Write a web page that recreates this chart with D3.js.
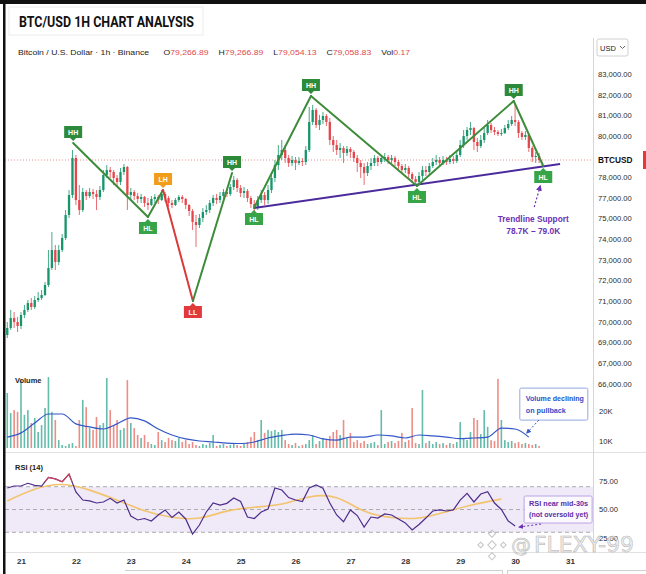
<!DOCTYPE html>
<html>
<head>
<meta charset="utf-8">
<script src="https://cdn.jsdelivr.net/npm/d3@7"></script>
<style>
  html, body { margin: 0; padding: 0; background: #fff; }
  svg { display: block; font-family: "Liberation Sans", Arial, sans-serif; }
</style>
</head>
<body>
<svg id="chart" width="646" height="574"></svg>
<script>
/*
 * BTC/USD 1H chart – candles, volume, RSI(14) with swing annotations.
 * Candle i sits at day START_DAY + i / PER_DAY, open = previous close.
 */

const START_DAY = 20.75;
const PER_DAY   = 16;
const FIRST_OPEN = 70.31;   // thousands USD

// prices in thousands USD
const closes = [
  70.66,71.16,70.96,70.76,71.31,71.56,71.91,71.71,72.06,72.16,
  72.31,72.81,73.66,74.56,73.96,74.56,75.16,76.31,77.31,79.16,
  77.06,76.56,77.46,77.26,77.46,77.36,77.21,77.56,78.31,78.56,
  78.46,78.16,77.96,78.46,78.71,77.31,77.46,77.26,77.11,77.21,
  76.91,76.81,77.11,77.21,77.06,77.36,77.16,76.91,76.81,77.06,
  77.21,77.11,76.81,76.51,75.96,75.81,76.16,76.46,76.56,76.91,
  77.16,77.06,77.26,77.46,77.36,77.71,78.06,77.66,77.41,77.51,
  77.16,76.86,76.71,77.06,77.31,77.06,77.56,78.16,78.81,79.31,
  79.56,79.16,78.91,79.06,78.91,79.01,78.96,79.56,80.96,81.56,
  80.81,81.06,81.26,80.96,80.06,79.81,79.56,79.66,79.41,79.61,
  79.46,79.16,78.91,78.71,78.41,78.76,78.91,79.16,78.96,79.16,
  79.21,79.06,79.16,78.96,78.76,78.56,78.66,78.36,78.11,77.96,
  78.26,78.56,78.46,78.76,78.96,79.06,78.91,79.06,78.96,79.11,
  79.01,79.31,79.81,80.26,80.56,80.66,79.96,79.76,80.06,80.41,
  80.81,80.56,80.46,80.36,80.41,80.66,80.86,81.06,80.96,80.41,
  80.21,80.31,79.66,79.21,79.26,79.06
];
const highs = [
  70.96,71.56,71.46,71.21,71.46,71.81,72.06,72.16,72.26,72.46,
  72.56,72.96,74.56,75.46,74.81,74.81,75.36,76.56,77.56,79.56,
  79.31,77.81,77.66,77.56,77.66,77.61,77.56,77.76,78.56,78.81,
  78.71,78.56,78.31,78.66,78.86,78.76,77.66,77.56,77.41,77.36,
  77.26,77.16,77.26,77.36,77.31,77.56,77.46,77.26,77.06,77.16,
  77.31,77.31,77.16,76.86,76.61,76.31,76.36,76.66,76.81,77.06,
  77.31,77.36,77.46,77.61,77.61,77.86,78.26,78.16,77.81,77.71,
  77.61,77.26,77.06,77.26,77.56,77.46,77.81,78.46,79.06,79.81,
  80.06,79.81,79.31,79.26,79.21,79.21,79.16,79.76,81.71,81.81,
  81.66,81.31,81.46,81.36,81.16,80.26,80.06,79.91,79.76,79.76,
  79.71,79.56,79.31,79.06,78.91,78.96,79.16,79.31,79.26,79.31,
  79.41,79.31,79.31,79.26,79.06,78.86,78.86,78.76,78.46,78.26,
  78.46,78.76,78.76,78.91,79.16,79.31,79.21,79.26,79.21,79.31,
  79.26,79.51,80.06,80.56,80.71,80.96,80.71,80.16,80.31,80.66,
  81.06,80.91,80.71,80.56,80.61,80.81,81.06,81.26,81.81,81.06,
  80.51,80.51,80.36,79.76,79.46,79.41
];
const lows = [
  70.16,70.56,70.66,70.46,70.61,71.16,71.46,71.56,71.61,71.96,
  72.06,72.26,72.71,73.56,73.56,73.81,74.46,75.06,76.16,77.16,
  76.81,76.31,76.46,77.06,77.16,77.11,76.56,77.06,77.46,78.16,
  78.16,77.81,77.71,77.81,78.31,76.56,77.06,77.06,76.91,76.91,
  76.71,76.56,76.76,76.91,76.86,77.01,76.96,76.71,76.66,76.76,
  76.96,76.91,76.61,76.26,75.56,74.71,75.66,75.96,76.31,76.41,
  76.76,76.86,76.91,77.11,77.21,77.26,77.56,77.46,77.21,77.16,
  76.96,76.66,76.51,76.56,76.91,76.81,76.86,77.41,77.96,78.56,
  79.06,78.91,78.71,78.76,78.56,78.81,78.76,78.81,79.46,80.81,
  80.66,80.56,80.86,80.76,79.81,79.46,79.31,79.16,78.91,79.26,
  79.16,78.96,78.46,78.16,77.81,78.26,78.56,78.76,78.76,78.86,
  78.96,78.86,78.91,78.76,78.56,78.36,78.41,78.16,77.91,77.76,
  77.81,78.06,78.26,78.31,78.66,78.81,78.76,78.81,78.81,78.86,
  78.86,78.91,79.21,79.66,80.06,80.31,79.56,79.46,79.66,79.91,
  80.31,80.41,80.31,80.26,80.26,80.36,80.56,80.76,80.76,80.16,
  80.06,80.06,79.46,78.96,78.91,78.91
];
// volume in thousands
const volumes = [
  26,19.3,20.3,19.7,30.3,18.7,20.3,16,17.7,13,
  15.3,21,31.3,19.7,17,10.3,4.3,2.9,5.7,7.1,
  2.9,17,23.7,21.3,14.3,13.7,18,15.3,16,31,
  20.3,15.3,17,13.7,14.3,30.3,16,14.3,12,11,
  12,8.6,5.7,4.3,13,10.3,8.6,11,10.3,10,
  11,8.6,10.3,5.7,8.6,4.3,2.9,5.7,4.3,7.1,
  12,2.9,4.3,5.7,2.9,4.3,7.1,4.3,2.9,5.7,
  8.6,11.3,13,10.3,17,12.7,13.7,13.3,13.7,13,
  13.7,10.3,5.7,4.3,7.1,2.9,4.3,5.7,10.3,12,
  5.7,10,11,10.3,11.7,13,13.7,12,17,11,
  12.7,8.6,10.3,7.1,10,5.7,7.1,8.6,4.3,20.3,
  5.7,8.6,10,7.1,10,12.7,8.6,10.3,21,7.1,
  5.7,27,7.1,10,5.7,8.6,5.7,7.1,4.3,7.1,
  5.7,8.6,16.3,11,10.3,13,17.7,17,12.3,20.3,
  14.7,10.3,10,30.7,17,10.3,8.6,10,7.1,8.6,
  5.7,7.1,5.7,4.3,5.7,2.9
];
// volume moving average, one value every 4 candles
const VOL_MA_STEP = 4;
const volMA = [
  11.3,12.7,16,19,19,15.7,14.7,14,15.7,17.7,16.7,14,12,10.7,10,8.6,7.1,6.4,8.6,11,
  11.8,12.3,12,10.7,10.3,11.3,11.3,12,11.7,11,12,11.7,11.3,10.8,11,11.3,14.3,14,11.3
];
// RSI(14), one value every 2 candles
const RSI_STEP = 2;
const rsi = [
  68.9,70.6,70.6,73.0,71.1,70.6,78.1,76.8,74.4,81.1,
  65.4,58.3,57.5,55.7,56.6,59.8,55.7,58.3,44.3,40.8,
  42.1,39.9,45.2,49.6,43.0,47.8,41.7,28.5,36.4,47.8,
  55.7,53.9,55.4,60.1,57.0,43.4,42.1,47.8,50.4,68.9,
  67.1,60.5,58.3,57.0,68.9,71.5,68.6,55.7,45.2,39.3,
  49.6,44.7,34.6,43.4,42.5,46.1,45.2,41.7,38.2,32.0,
  36.8,42.5,48.7,49.6,48.7,49.6,58.3,64.2,56.6,63.6,
  65.6,55.7,50.0,39.9,35.5
];
// RSI moving average, one value every 8 candles
const RSI_MA_STEP = 8;
const rsiMA = [57.5,68.9,73.7,67.5,58.3,48.2,42.5,40.8,49.6,52.2,53.5,62.3,63.2,46.5,42.5,41.2,48.2,54.8,59.2];

// swing points (candle index, price k)
const swingLabels = ['HH','HL','LH','LL','HH','HL','HH','HL','HH','HL'];
const swingIdx    = [19.2, 41.0, 45.4, 54.1, 65.5, 71.9, 88.5, 119.4, 147.6, 156.2];
const swingPrice  = [79.91, 76.21, 77.56, 72.01, 78.41, 76.66, 82.26, 77.76, 82.01, 78.76];
const trendIdx    = [71.9, 161.1];
const trendPrice  = [76.66, 78.86];

// axis labels
const priceTicks = [83000,82000,81000,80000,78000,77000,75000,74000,73000,72000,71000,70000,69000,67000,66000];
const volTicks   = [20, 10];
const rsiTicks   = [75, 50, 25];
const rsiLevels  = [70, 50, 30];
const dayTicks   = [21,22,23,24,25,26,27,28,29,30,31];
const ohlcNames  = ['O','H','L','C','Vol'];
const ohlcValues = ['79,266.89','79,266.89','79,054.13','79,058.83','0.17'];

const UP = '#17956b', DOWN = '#e4464c';
const VOL_UP = '#64bcaa', VOL_DOWN = '#ef8c85';
const X0 = 5, X1 = 593;

const svg = d3.select('#chart');
const defs = svg.append('defs');

// ---- scales ----
const xDay  = d3.scaleLinear().domain([21, 31]).range([21, 570]);
const xIdx  = i => xDay(START_DAY + i / PER_DAY);
const yP    = d3.scaleLinear().domain([79.06, 80.06]).range([160, 140]);
const yVol  = d3.scaleLinear().domain([0, 10, 20]).range([448, 441, 411]);
const yRsi  = d3.scaleLinear().domain([25, 75]).range([538, 481]);

const candles = closes.map((c, i) => ({
  i, c, h: highs[i], l: lows[i], v: volumes[i],
  o: i ? closes[i - 1] : FIRST_OPEN
}));

// ---- frame ----
svg.append('rect').attr('width', 646).attr('height', 574).attr('fill', '#fff');

defs.append('clipPath').attr('id', 'clip-main')
  .append('rect').attr('x', X0).attr('y', 58).attr('width', X1 - X0).attr('height', 312);

// pane separators + price axis line
svg.selectAll('.sep').data([452.5, 552.5]).join('line')
  .attr('x1', X0).attr('x2', 646).attr('y1', d => d).attr('y2', d => d)
  .attr('stroke', '#e2e2e2');
svg.append('line').attr('x1', X1 + 0.5).attr('x2', X1 + 0.5).attr('y1', 38).attr('y2', 552)
  .attr('stroke', '#d6d6d6');

// ---- current price line ----
const last = candles[candles.length - 1];
svg.append('line')
  .attr('x1', X0).attr('x2', X1).attr('y1', yP(last.c)).attr('y2', yP(last.c))
  .attr('stroke', '#e57373').attr('stroke-width', 0.8).attr('stroke-dasharray', '1,2');

// ---- candles ----
const gMain = svg.append('g').attr('clip-path', 'url(#clip-main)');
const cg = gMain.selectAll('.candle').data(candles).join('g');
cg.append('line')
  .attr('x1', d => xIdx(d.i)).attr('x2', d => xIdx(d.i))
  .attr('y1', d => yP(d.h)).attr('y2', d => yP(d.l))
  .attr('stroke', d => d.c >= d.o ? UP : DOWN).attr('stroke-width', 0.8);
cg.append('rect')
  .attr('x', d => xIdx(d.i) - 1.15).attr('width', 2.3)
  .attr('y', d => yP(Math.max(d.o, d.c)))
  .attr('height', d => Math.max(0.8, Math.abs(yP(d.o) - yP(d.c))))
  .attr('fill', d => d.c >= d.o ? UP : DOWN);

// ---- trendline ----
const line = d3.line();
svg.append('path')
  .attr('d', line(trendIdx.map((t, k) => [xIdx(t), yP(trendPrice[k])])))
  .attr('stroke', '#4b2a9c').attr('stroke-width', 2).attr('fill', 'none');

// ---- swing zigzag ----
const swings = swingLabels.map((t, k) => ({ t, x: xIdx(swingIdx[k]), y: yP(swingPrice[k]) }));
const legs = [[0, 1], [1, 2], [2, 3], [3, 4], [5, 6], [6, 7], [7, 8], [8, 9]];
svg.selectAll('.leg').data(legs).join('line')
  .attr('x1', d => swings[d[0]].x).attr('y1', d => swings[d[0]].y)
  .attr('x2', d => swings[d[1]].x).attr('y2', d => swings[d[1]].y)
  .attr('stroke', d => swings[d[0]].t === 'LH' ? '#d93a3a' : '#3d8c3b')
  .attr('stroke-width', 2).attr('stroke-linecap', 'round');

const tagColor = { HH: '#2e8a3b', HL: '#36a447', LH: '#f29d1a', LL: '#e03a3a' };
const tags = svg.selectAll('.tag').data(swings).join('g')
  .attr('transform', d => `translate(${d.x},${d.y})`);
tags.append('path')
  .attr('d', d => d.t[1] === 'H'
    ? 'M-9,-17 h18 v12 h-6 l-3,3 l-3,-3 h-6 z'
    : 'M-9,17 h18 v-12 h-6 l-3,-3 l-3,3 h-6 z')
  .attr('fill', d => tagColor[d.t]).attr('stroke-linejoin', 'round');
tags.append('text')
  .attr('y', d => d.t[1] === 'H' ? -8.5 : 13.5)
  .attr('text-anchor', 'middle').attr('font-size', 7).attr('font-weight', 'bold')
  .attr('fill', '#fff').text(d => d.t);

// ---- arrows ----
function marker(id, color) {
  defs.append('marker').attr('id', id).attr('viewBox', '0 0 10 10')
    .attr('refX', 8).attr('refY', 5).attr('markerWidth', 5).attr('markerHeight', 5)
    .attr('orient', 'auto')
    .append('path').attr('d', 'M0,0 L10,5 L0,10 z').attr('fill', color);
}
marker('arr-purple', '#6a32b5');
marker('arr-blue', '#3557c7');

// trendline support note
const hl = swings[swings.length - 1];
svg.append('line')
  .attr('x1', hl.x - 9).attr('y1', hl.y + 41).attr('x2', hl.x - 3).attr('y2', hl.y + 20)
  .attr('stroke', '#6a32b5').attr('stroke-width', 1.2).attr('stroke-dasharray', '2,2')
  .attr('marker-end', 'url(#arr-purple)');
const note = svg.append('text').attr('text-anchor', 'middle')
  .attr('font-size', 8.5).attr('font-weight', 'bold').attr('fill', '#6a32b5');
note.append('tspan').attr('x', hl.x - 10).attr('y', hl.y + 56)
  .attr('textLength', 71).attr('lengthAdjust', 'spacingAndGlyphs').text('Trendline Support');
note.append('tspan').attr('x', hl.x - 10).attr('y', hl.y + 68)
  .attr('textLength', 54).attr('lengthAdjust', 'spacingAndGlyphs').text('78.7K – 79.0K');

// ---- volume pane ----
svg.selectAll('.vol').data(candles).join('rect')
  .attr('x', d => xIdx(d.i) - 0.8).attr('width', 1.6)
  .attr('y', d => yVol(d.v)).attr('height', d => yVol(0) - yVol(d.v))
  .attr('fill', d => d.c >= d.o ? VOL_UP : VOL_DOWN);
svg.append('path')
  .attr('d', d3.line().curve(d3.curveMonotoneX)(volMA.map((v, k) => [xIdx(k * VOL_MA_STEP), yVol(v)])))
  .attr('fill', 'none').attr('stroke', '#3557c7').attr('stroke-width', 1.2);
svg.append('text').attr('x', 15).attr('y', 383).attr('font-size', 7.5)
  .attr('font-weight', 'bold').attr('fill', '#222').text('Volume');

const vEnd = [xIdx((volMA.length - 1) * VOL_MA_STEP), yVol(volMA[volMA.length - 1])];
svg.append('rect').attr('x', vEnd[0] - 9).attr('y', vEnd[1] - 49).attr('width', 68).attr('height', 32)
  .attr('fill', '#fff').attr('stroke', '#90a8e0').attr('rx', 1.5);
const vNote = svg.append('text').attr('font-size', 7).attr('font-weight', 'bold').attr('fill', '#2a50c8');
vNote.append('tspan').attr('x', vEnd[0] - 3).attr('y', vEnd[1] - 36)
  .attr('textLength', 58).attr('lengthAdjust', 'spacingAndGlyphs').text('Volume declining');
vNote.append('tspan').attr('x', vEnd[0] - 3).attr('y', vEnd[1] - 24)
  .attr('textLength', 40).attr('lengthAdjust', 'spacingAndGlyphs').text('on pullback');
svg.append('line')
  .attr('x1', vEnd[0] + 10).attr('y1', vEnd[1] - 17).attr('x2', vEnd[0] - 2).attr('y2', vEnd[1] - 4)
  .attr('stroke', '#3557c7').attr('stroke-width', 1).attr('stroke-dasharray', '2,2')
  .attr('marker-end', 'url(#arr-blue)');

// ---- RSI pane ----
svg.append('rect')
  .attr('x', X0).attr('width', X1 - X0)
  .attr('y', yRsi(70)).attr('height', yRsi(30) - yRsi(70))
  .attr('fill', '#efe9f8');
svg.selectAll('.lvl').data(rsiLevels).join('line')
  .attr('x1', X0).attr('x2', X1).attr('y1', d => yRsi(d)).attr('y2', d => yRsi(d))
  .attr('stroke', '#9a9a9a').attr('stroke-width', 0.8).attr('stroke-dasharray', '4,3');
svg.append('path')
  .attr('d', d3.line().curve(d3.curveBasis)(rsiMA.map((v, k) => [xIdx(k * RSI_MA_STEP), yRsi(v)])))
  .attr('fill', 'none').attr('stroke', '#f2c46d').attr('stroke-width', 1.6);
const rsiPts = rsi.map((v, k) => [xIdx(k * RSI_STEP), yRsi(v)]);
svg.append('path').attr('d', line(rsiPts))
  .attr('fill', 'none').attr('stroke', '#4d2d8c').attr('stroke-width', 1.2);
defs.append('clipPath').attr('id', 'clip-ob')
  .append('rect').attr('x', X0).attr('y', 455).attr('width', X1 - X0).attr('height', yRsi(74) - 455);
svg.append('path').attr('d', line(rsiPts)).attr('clip-path', 'url(#clip-ob)')
  .attr('fill', 'none').attr('stroke', '#d0455a').attr('stroke-width', 1.2);
svg.append('text').attr('x', 15).attr('y', 470).attr('font-size', 7.5)
  .attr('font-weight', 'bold').attr('fill', '#222').text('RSI (14)');

const rEnd = rsiPts[rsiPts.length - 1];
svg.append('rect').attr('x', rEnd[0] + 9).attr('y', rEnd[1] - 30).attr('width', 68).attr('height', 27)
  .attr('fill', '#fbf9fe').attr('stroke', '#b9a5e3').attr('rx', 1.5);
const rNote = svg.append('text').attr('font-size', 7).attr('font-weight', 'bold').attr('fill', '#5a2ea6');
rNote.append('tspan').attr('x', rEnd[0] + 14).attr('y', rEnd[1] - 20)
  .attr('textLength', 59).attr('lengthAdjust', 'spacingAndGlyphs').text('RSI near mid-30s');
rNote.append('tspan').attr('x', rEnd[0] + 14).attr('y', rEnd[1] - 9)
  .attr('textLength', 59).attr('lengthAdjust', 'spacingAndGlyphs').text('(not oversold yet)');
svg.append('line')
  .attr('x1', rEnd[0] + 26).attr('y1', rEnd[1] - 2).attr('x2', rEnd[0] + 4).attr('y2', rEnd[1] + 1)
  .attr('stroke', '#6a32b5').attr('stroke-width', 1).attr('stroke-dasharray', '2,2')
  .attr('marker-end', 'url(#arr-purple)');

// ---- axes ----
function styleAxis(g, size, weight, color) {
  g.select('.domain').remove();
  g.selectAll('text').attr('font-size', size).attr('font-weight', weight)
    .attr('fill', color).attr('font-family', '"Liberation Sans", Arial, sans-serif');
}
const slots = priceTicks.slice(0, 4).map(String).concat(['BTCUSD'], priceTicks.slice(4).map(String));
const ySlot = d3.scalePoint().domain(slots).range([74, 74 + 15 * 20.65]);
svg.append('g').attr('transform', `translate(${X1 + 1},0)`)
  .call(d3.axisRight(ySlot).tickValues(slots.filter(s => s !== 'BTCUSD'))
    .tickSize(0).tickPadding(4).tickFormat(d => d3.format(',.2f')(+d)))
  .call(g => styleAxis(g, 7.6, 'normal', '#2a2a2a'));
svg.append('text').attr('x', X1 + 5).attr('y', yP(last.c)).attr('dy', '0.35em')
  .attr('font-size', 8.3).attr('font-weight', 'bold').attr('fill', '#111').text('BTCUSD');
svg.append('rect').attr('x', 643).attr('y', yP(last.c) - 9).attr('width', 4).attr('height', 18)
  .attr('fill', '#e53935');

svg.append('g').attr('transform', `translate(${X1 + 1},0)`)
  .call(d3.axisRight(yVol).tickValues(volTicks).tickSize(0).tickPadding(5).tickFormat(d => d + 'K'))
  .call(g => styleAxis(g, 7.6, 'normal', '#2a2a2a'));
svg.append('g').attr('transform', `translate(${X1 + 1},0)`)
  .call(d3.axisRight(yRsi).tickValues(rsiTicks).tickSize(0).tickPadding(5).tickFormat(d3.format('.2f')))
  .call(g => styleAxis(g, 7.6, 'normal', '#2a2a2a'));
svg.append('g').attr('transform', 'translate(0,552)')
  .call(d3.axisBottom(xDay).tickValues(dayTicks).tickSize(0).tickPadding(6).tickFormat(d3.format('d')))
  .call(g => styleAxis(g, 8, 'bold', '#333'));

// USD selector
svg.append('rect').attr('x', 597).attr('y', 39).attr('width', 31).attr('height', 17)
  .attr('rx', 2).attr('fill', '#fff').attr('stroke', '#d0d0d0');
svg.append('text').attr('x', 600).attr('y', 50.5).attr('font-size', 7.5).attr('fill', '#222').text('USD');
svg.append('path').attr('d', 'M620,46 l2.5,2.5 l2.5,-2.5').attr('fill', 'none')
  .attr('stroke', '#555').attr('stroke-width', 0.9);

// ---- header ----
svg.append('rect').attr('x', 9).attr('y', 7).attr('width', 194).attr('height', 28)
  .attr('fill', '#fff').attr('stroke', '#ececec');
svg.append('text').attr('x', 19).attr('y', 26.5)
  .attr('font-family', 'Roboto, "Liberation Sans", sans-serif')
  .attr('font-size', 15).attr('font-weight', 'bold').attr('fill', '#111')
  .attr('textLength', 175).attr('lengthAdjust', 'spacingAndGlyphs')
  .text('BTC/USD 1H CHART ANALYSIS');

const sub = svg.append('text').attr('x', 18).attr('y', 55).attr('font-size', 7.8)
  .attr('textLength', 392).attr('lengthAdjust', 'spacingAndGlyphs');
sub.append('tspan').attr('fill', '#222').text('Bitcoin / U.S. Dollar · 1h · Binance');
ohlcNames.forEach((n, k) => {
  sub.append('tspan').attr('dx', k ? 9 : 13).attr('fill', '#222').text(n);
  sub.append('tspan').attr('fill', '#e04a4f').text(ohlcValues[k]);
});

// ---- screenshot frame & watermark ----
svg.append('rect').attr('x', 0).attr('y', 0).attr('width', 646).attr('height', 4).attr('fill', '#111');
svg.append('rect').attr('x', 3).attr('y', 0).attr('width', 2.5).attr('height', 574).attr('fill', '#111');
svg.append('path').attr('d', 'M125,570.5 H502.5 V574 M507.5,574 V570.5 H646')
  .attr('fill', 'none').attr('stroke', '#cfcfcf');

const wm = svg.append('g').attr('opacity', 0.8);
const logo = wm.append('g').attr('transform', 'translate(492,545) rotate(45)')
  .attr('fill', 'none').attr('stroke', '#b8b8b8').attr('stroke-width', 1);
[[0, 0, 6], [-8, -8, 5], [8, 8, 5], [-8, 8, 4], [8, -8, 4]].forEach(s => {
  logo.append('rect').attr('x', s[0] - s[2] / 2).attr('y', s[1] - s[2] / 2)
    .attr('width', s[2]).attr('height', s[2]);
});
wm.append('text').attr('x', 511).attr('y', 552).attr('font-family', '"DejaVu Sans", sans-serif')
  .attr('font-size', 20).attr('fill', '#ececec').attr('stroke', '#a0a0a0').attr('stroke-width', 0.5)
  .text('@');
wm.append('text').attr('x', 534).attr('y', 552).attr('font-family', '"DejaVu Sans", sans-serif')
  .attr('font-size', 21).attr('fill', '#ececec').attr('stroke', '#a0a0a0').attr('stroke-width', 0.5)
  .attr('textLength', 100).attr('lengthAdjust', 'spacingAndGlyphs')
  .text('FLEXY-99');
</script>
</body>
</html>
